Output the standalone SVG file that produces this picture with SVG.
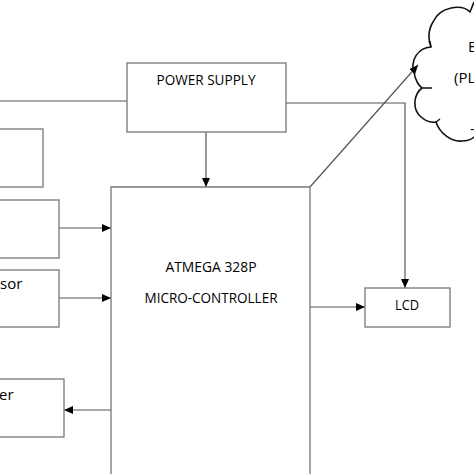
<svg xmlns="http://www.w3.org/2000/svg" width="474" height="474" viewBox="0 0 474 474">
<style>
.box{fill:#fff;stroke:#777;stroke-width:1.3}
.ln{fill:none;stroke:#555;stroke-width:1.2}
.t{font-family:"Open Sans","Liberation Sans",sans-serif;font-size:15px;fill:#000}
.cloud{fill:#fff;stroke:#111;stroke-width:1.6;stroke-linejoin:round}
</style>
<defs>
<marker id="ah" markerWidth="9" markerHeight="8" refX="9" refY="4" orient="auto" markerUnits="userSpaceOnUse">
<path d="M0,0 L9,4 L0,8 Z" fill="#000"/>
</marker>
</defs>
<rect width="474" height="474" fill="#fff"/>
<g id="cloud">
<path class="cloud" d="M474,2 L470,12 C462,4 440,6 433,22 C428,30 428,40 431,47 C418,48 410,60 414,72 C415,80 419,86 422,88 C414,94 412,108 420,116 C424,120 430,123 436,122 C440,134 452,142 462,141 C468,141 472,139 474,137"/>
<path class="ln" style="stroke:#111;stroke-width:1.4" d="M431,47 L430,41 M422,88 L432,88 M436,122 L440,119"/>
<text class="t" x="468" y="52">E</text>
<text class="t" x="454" y="83">(PL</text>
<text class="t" x="470" y="134">-</text>
</g>
<g id="connectors">
<path class="ln" d="M0,101 L127,101"/>
<path class="ln" d="M286,103 L405,103 L405,288" marker-end="url(#ah)"/>
<path class="ln" d="M206,132 L206,187" marker-end="url(#ah)"/>
<path class="ln" d="M310,187 L418,65" marker-end="url(#ah)"/>
<path class="ln" d="M59,228 L111,228" marker-end="url(#ah)"/>
<path class="ln" d="M59,298 L111,298" marker-end="url(#ah)"/>
<path class="ln" d="M111,410 L64,410" marker-end="url(#ah)"/>
<path class="ln" d="M310,307 L365,307" marker-end="url(#ah)"/>
</g>
<g id="power">
<rect class="box" x="127" y="63" width="159" height="69"/>
<text class="t" x="206" y="85" text-anchor="middle" textLength="99" lengthAdjust="spacingAndGlyphs">POWER SUPPLY</text>
</g>
<g id="mcu">
<path class="box" d="M111,480 L111,187 L310,187 L310,480"/>
<text class="t" x="211" y="272" text-anchor="middle" textLength="91" lengthAdjust="spacingAndGlyphs">ATMEGA 328P</text>
<text class="t" x="211" y="303" text-anchor="middle" textLength="133" lengthAdjust="spacingAndGlyphs">MICRO-CONTROLLER</text>
</g>
<g id="box1">
<rect class="box" x="-10" y="129" width="53" height="58"/>
</g>
<g id="box2">
<rect class="box" x="-10" y="200" width="69" height="58"/>
</g>
<g id="box3">
<rect class="box" x="-10" y="270" width="69" height="57"/>
<text class="t" x="0" y="289">sor</text>
</g>
<g id="box4">
<rect class="box" x="-10" y="379" width="74" height="58"/>
<text class="t" x="-1" y="400">er</text>
</g>
<g id="lcd">
<rect class="box" x="365" y="288" width="85" height="39"/>
<text class="t" x="407" y="310" text-anchor="middle" textLength="24" lengthAdjust="spacingAndGlyphs">LCD</text>
</g>
</svg>
